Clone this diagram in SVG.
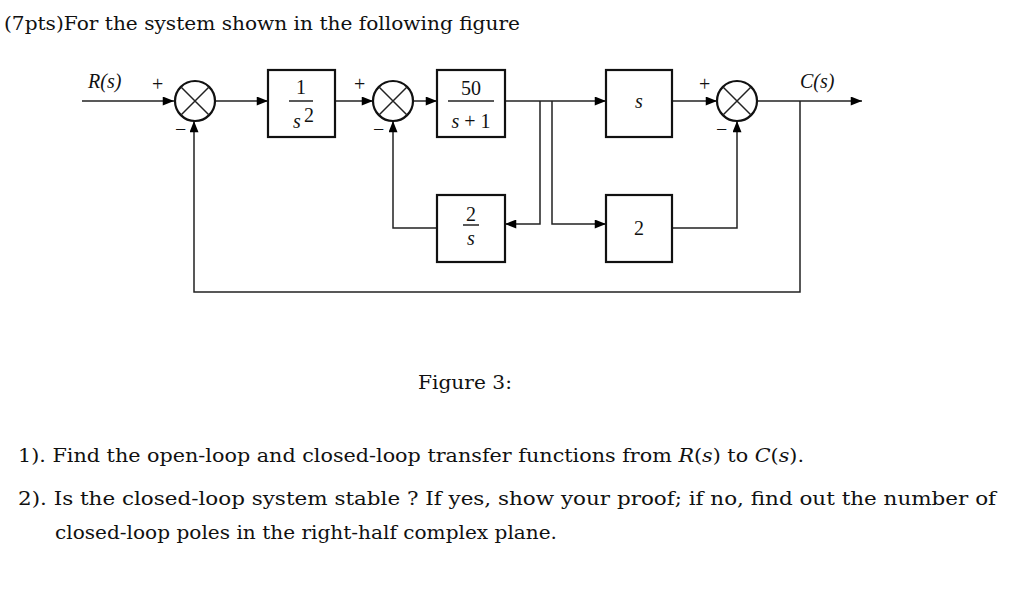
<svg xmlns="http://www.w3.org/2000/svg" width="1024" height="611" viewBox="0 0 1024 611">
<defs><marker id="a" viewBox="0 0 10 8" refX="10" refY="4" markerWidth="12" markerHeight="9" markerUnits="userSpaceOnUse" orient="auto"><path d="M0,0L10,4L0,8z" fill="#000"/></marker></defs>
<style>
.l{fill:none;stroke:#222;stroke-width:1.5}
.b{fill:#fff;stroke:#111;stroke-width:2.2}
.t{font-family:"DejaVu Serif","Liberation Serif",serif;font-size:19px;fill:#111}
.d{font-family:"Liberation Serif",serif;font-size:20px;fill:#111}
.i{font-style:italic}
</style>
<rect width="1024" height="611" fill="#fff"/>
<text class="t" x="4" y="30" textLength="516" lengthAdjust="spacingAndGlyphs">(7pts)For the system shown in the following figure</text>
<g id="connectors">
<path class="l" d="M82,101H174" marker-end="url(#a)"/>
<path class="l" d="M215,101H268" marker-end="url(#a)"/>
<path class="l" d="M335,101H373" marker-end="url(#a)"/>
<path class="l" d="M413,101H437" marker-end="url(#a)"/>
<path class="l" d="M505,101H606" marker-end="url(#a)"/>
<path class="l" d="M672,101H717" marker-end="url(#a)"/>
<path class="l" d="M757,101H862" marker-end="url(#a)"/>
<path class="l" d="M540,101V224H505" marker-end="url(#a)"/>
<path class="l" d="M552,101V224H606" marker-end="url(#a)"/>
<path class="l" d="M437,228H393V121" marker-end="url(#a)"/>
<path class="l" d="M672,228H737V121" marker-end="url(#a)"/>
<path class="l" d="M800,101V292H194V121" marker-end="url(#a)"/>
</g>
<g id="sum1"><circle class="b" cx="195" cy="101" r="20" stroke-width="1.8"/><path class="l" d="M181,87L209,115M209,87L181,115"/><text class="d" x="152" y="91">+</text><text class="d" x="175" y="136">−</text></g>
<g id="sum2"><circle class="b" cx="393" cy="101" r="20" stroke-width="1.8"/><path class="l" d="M379,87L407,115M407,87L379,115"/><text class="d" x="354" y="91">+</text><text class="d" x="373" y="136">−</text></g>
<g id="sum3"><circle class="b" cx="737" cy="101" r="20" stroke-width="1.8"/><path class="l" d="M723,87L751,115M751,87L723,115"/><text class="d" x="699" y="91">+</text><text class="d" x="716" y="136">−</text></g>
<g id="G1"><rect class="b" x="268" y="70" width="67" height="67"/><text class="d" x="301" y="94" text-anchor="middle">1</text><path class="l" d="M289,101H313"/><text class="d i" x="297" y="128" text-anchor="middle">s</text><text class="d" x="304" y="122">2</text></g>
<g id="G2"><rect class="b" x="437" y="70" width="68" height="67"/><text class="d" x="471" y="95" text-anchor="middle">50</text><path class="l" d="M448,101H494"/><text class="d" x="471" y="128" text-anchor="middle"><tspan class="i">s</tspan> + 1</text></g>
<g id="Gs"><rect class="b" x="606" y="70" width="66" height="67"/><text class="d i" x="639" y="108" text-anchor="middle">s</text></g>
<g id="H1"><rect class="b" x="437" y="195" width="68" height="67"/><text class="d" x="471" y="221" text-anchor="middle">2</text><path class="l" d="M463,225H479"/><text class="d i" x="471" y="245" text-anchor="middle">s</text></g>
<g id="H2"><rect class="b" x="606" y="195" width="66" height="67"/><text class="d" x="639" y="235" text-anchor="middle">2</text></g>
<text class="d i" x="88" y="88">R(s)</text>
<text class="d i" x="800" y="88">C(s)</text>
<text class="t" x="465" y="389" text-anchor="middle" textLength="94" lengthAdjust="spacingAndGlyphs">Figure 3:</text>
<text class="t" x="18" y="462" textLength="786" lengthAdjust="spacingAndGlyphs">1). Find the open-loop and closed-loop transfer functions from <tspan class="i">R</tspan>(<tspan class="i">s</tspan>) to <tspan class="i">C</tspan>(<tspan class="i">s</tspan>).</text>
<text class="t" x="18" y="505" textLength="978" lengthAdjust="spacingAndGlyphs">2). Is the closed-loop system stable ? If yes, show your proof; if no, find out the number of</text>
<text class="t" x="55" y="539" textLength="502" lengthAdjust="spacingAndGlyphs">closed-loop poles in the right-half complex plane.</text>
</svg>
